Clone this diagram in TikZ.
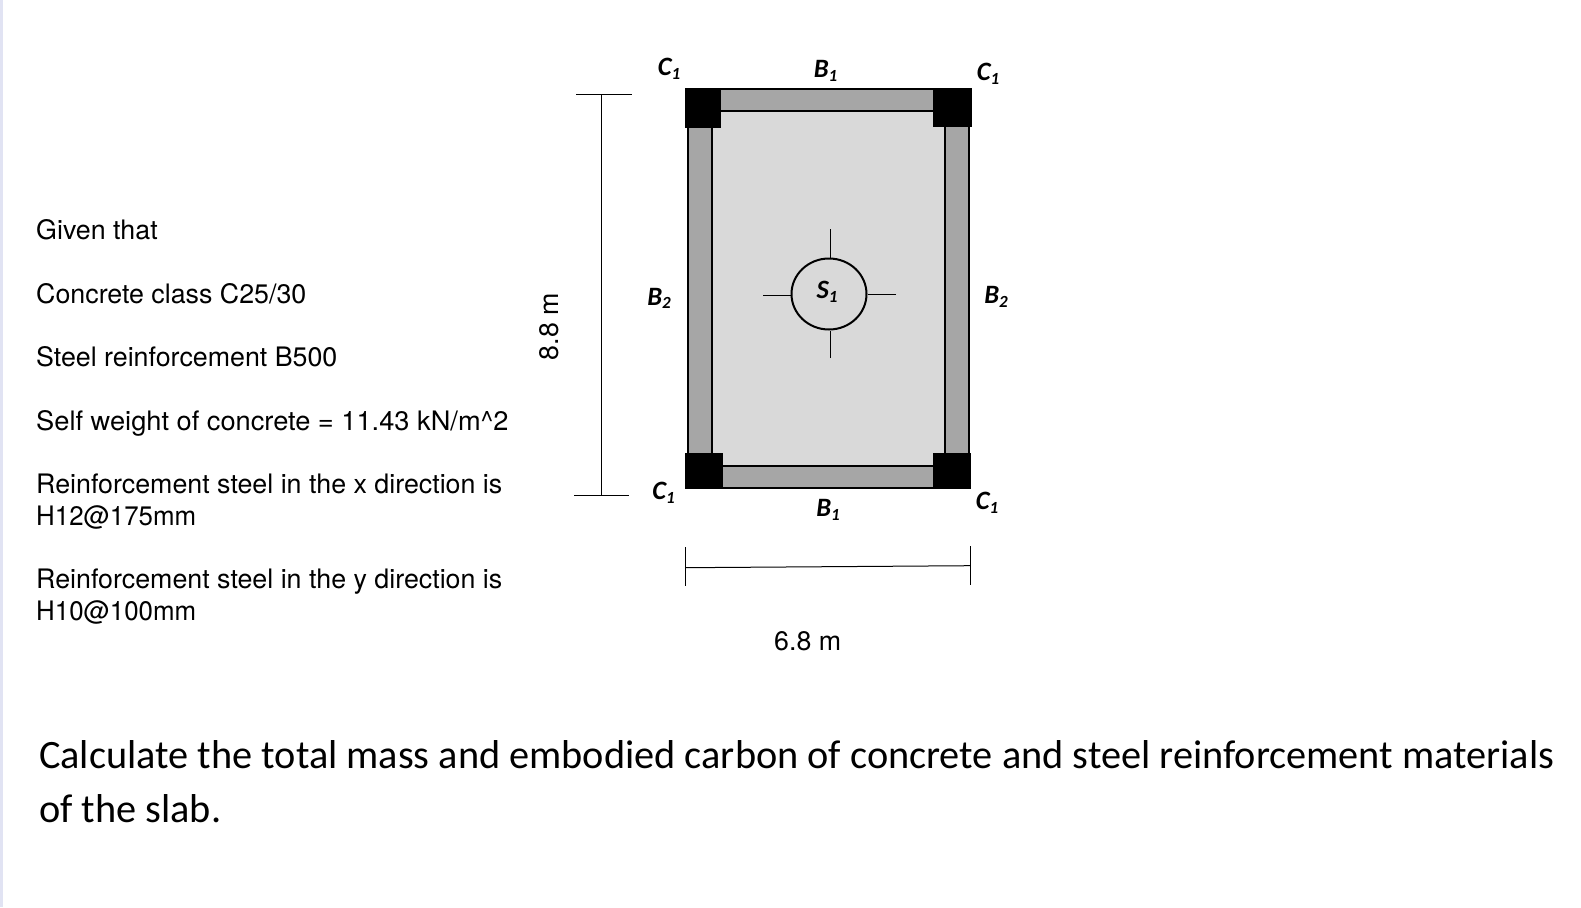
\documentclass[tikz,border=0pt]{standalone}
\usepackage{fontspec}
\usetikzlibrary{shapes.geometric}
\setmainfont{TeX Gyre Heros}
\newfontfamily\calib{Carlito}
\definecolor{slab}{HTML}{D9D9D9}
\definecolor{beam}{HTML}{A6A6A6}
\definecolor{strip}{HTML}{E1E3F3}
\newcommand{\mk}[2]{{\calib\fontsize{26.5}{28}\selectfont\bfseries\itshape #1\raisebox{-0.14em}{\fontsize{17}{18}\selectfont #2}}}
\tikzset{
  x=1pt,y=-1pt,
  txt/.style={anchor=base west,inner sep=0pt,font=\fontsize{26.8}{31.3}\selectfont},
  main/.style={anchor=base west,inner sep=0pt,font=\calib\fontsize{40.3}{53.5}\selectfont},
  dim/.style={anchor=base,inner sep=0pt,font=\fontsize{26.8}{30}\selectfont},
  lab/.style={inner sep=0pt},
  beamf/.style={fill=beam,draw=black,line width=2pt},
  colf/.style={fill=black,draw=none},
  thin1/.style={line width=1pt,draw=black},
}
\begin{document}
\begin{tikzpicture}
\useasboundingbox (0,0) rectangle (1581,907);
\fill[white] (0,0) rectangle (1581,907);
\fill[strip] (0,0) rectangle (3,907);

% text
\node[txt] (t1) at (36,239) {Given that};
\node[txt] (t2) at (36,303.2) {Concrete class C25/30};
\node[txt] (t3) at (36,366) {Steel reinforcement B500};
\node[txt] (t4) at (36,430) {\scalebox{1.016}[1]{Self weight of concrete = 11.43 kN/m\textasciicircum 2}};
\node[txt] (t5) at (36,493) {Reinforcement steel in the x direction is};
\node[txt] (t5b) at (36,525.2) {\scalebox{0.965}[1]{H12@175mm}};
\node[txt] (t6) at (36,588) {Reinforcement steel in the y direction is};
\node[txt] (t6b) at (36,620.3) {\scalebox{0.965}[1]{H10@100mm}};
\node[main] (q1) at (39,768.5) {Calculate the total mass and embodied carbon of concrete and steel reinforcement materials};
\node[main] (q2) at (39,822.5) {of the slab.};

% slab
\fill[slab] (712,111) rectangle (945,465);
% beams
\draw[beamf] (687.5,120) rectangle (711.5,460);
\draw[beamf] (944.5,120) rectangle (969,460);
\draw[beamf] (715,88.5) rectangle (938,111);
\draw[beamf] (715,465.5) rectangle (938,488);
% columns
\fill[colf] (685,88) rectangle (721,128);
\fill[colf] (933,87.5) rectangle (972,127);
\fill[colf] (685,453) rectangle (722.5,489);
\fill[colf] (933,453) rectangle (970.5,489);

% slab opening
\node[draw=black,line width=2pt,ellipse,minimum width=75pt,minimum height=71pt,inner sep=0pt,fill=slab] (s) at (829,294) {};
\node[lab] (slabel) at (827,292) {\mk{S}{1}};
\coordinate (st) at (830,229);
\coordinate (sb) at (830,358);
\coordinate (sl) at (763,295);
\coordinate (sr) at (896,294);
\draw[thin1] (st) -- (s.north -| st);
\draw[thin1] (sb) -- (s.south -| sb);
\draw[thin1] (sl) -- (s.west |- sl);
\draw[thin1] (sr) -- (s.east |- sr);

% vertical dimension
\coordinate (vt) at (601.7,94);
\coordinate (vb) at (601.7,495.5);
\coordinate (vt1) at (576,94);
\coordinate (vt2) at (632,94);
\coordinate (vb1) at (574,495.5);
\coordinate (vb2) at (629,495.5);
\draw[thin1] (vt) -- (vb);
\draw[thin1] (vt1) -- (vt2);
\draw[thin1] (vb1) -- (vb2);
\node[dim,rotate=90] (d88) at (558,326.5) {8.8 m};

% horizontal dimension
\coordinate (hl) at (685.5,567.7);
\coordinate (hr) at (970,565.7);
\coordinate (hl1) at (685.5,547);
\coordinate (hl2) at (685.5,586);
\coordinate (hr1) at (970,546);
\coordinate (hr2) at (970,585);
\draw[thin1] (hl) -- (hr);
\draw[thin1] (hl1) -- (hl2);
\draw[thin1] (hr1) -- (hr2);
\node[dim] (d68) at (807.7,650) {6.8 m};

% labels
\node[lab] (c1) at (669,68.5) {\mk{C}{1}};
\node[lab] (b1) at (825.5,71) {\mk{B}{1}};
\node[lab] (c2) at (988,74) {\mk{C}{1}};
\node[lab] (b2) at (659,298.5) {\mk{B}{2}};
\node[lab] (b3) at (996,297) {\mk{B}{2}};
\node[lab] (c3) at (663.5,493) {\mk{C}{1}};
\node[lab] (b4) at (828,510) {\mk{B}{1}};
\node[lab] (c4) at (987,502.5) {\mk{C}{1}};
\end{tikzpicture}
\end{document}
